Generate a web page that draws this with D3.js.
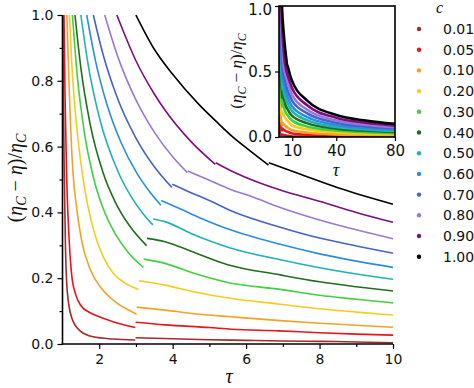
<!DOCTYPE html>
<html><head><meta charset="utf-8">
<script src="https://cdn.jsdelivr.net/npm/d3@7"></script>
<style>body{margin:0;background:#fff} svg{display:block}</style>
</head><body>
<svg id="chart" width="474" height="388"></svg>
<script>
const cLabels = ["0.01","0.05","0.10","0.20","0.30","0.40","0.50","0.60","0.70","0.80","0.90","1.00"];
const colors = ["#a52a2a","#e8161b","#f4a227","#f6cc1c","#3fd13f","#1f6f1f","#1fb3b3","#2b8ce6","#4463cc","#9a78d8","#7f0d7f","#000000"];

// branch before the jump, [tau, (etaC-eta)/etaC]
const preJump = [
  [[1.01,1],[1.025,0.75],[1.05,0.5],[1.08,0.3],[1.13,0.16],[1.25,0.08],[1.48,0.04],[1.83,0.022],[2.38,0.015],[2.98,0.012]],
  [[1.04,1],[1.07,0.75],[1.11,0.52],[1.18,0.32],[1.25,0.21],[1.36,0.15],[1.5,0.117],[1.75,0.095],[2.02,0.082],[2.4,0.067],[2.98,0.050]],
  [[1.12,1],[1.16,0.85],[1.21,0.69],[1.28,0.53],[1.39,0.41],[1.52,0.315],[1.75,0.228],[2.07,0.168],[2.43,0.129],[2.89,0.098],[3.02,0.090]],
  [[1.19,1],[1.25,0.86],[1.33,0.73],[1.43,0.615],[1.55,0.51],[1.68,0.425],[1.89,0.33],[2.11,0.265],[2.38,0.215],[2.7,0.185],[3.07,0.166]],
  [[1.27,1],[1.4,0.818],[1.6,0.640],[1.84,0.507],[2.1,0.414],[2.43,0.336],[2.79,0.278],[3.2,0.233]],
  [[1.34,1],[1.5,0.839],[1.75,0.670],[2.11,0.519],[2.43,0.433],[2.84,0.357],[3.29,0.299]],
  [[1.5,1],[1.7,0.848],[2.0,0.690],[2.52,0.522],[2.89,0.444],[3.2,0.395],[3.46,0.362]],
  [[1.66,1],[1.9,0.860],[2.2,0.732],[2.6,0.611],[3.02,0.520],[3.4,0.459],[3.68,0.422]],
  [[1.84,1],[2.1,0.882],[2.5,0.746],[3.0,0.626],[3.5,0.539],[3.98,0.476]],
  [[2.15,1],[2.5,0.875],[3.0,0.742],[3.5,0.644],[4.0,0.569],[4.4,0.521]],
  [[2.48,1],[3.0,0.861],[3.5,0.760],[3.79,0.711],[4.5,0.615],[5.16,0.546]],
  [[3.0,1],[3.5,0.896],[4.0,0.82],[4.7,0.73],[5.2,0.675],[5.61,0.632],[6.1,0.588],[6.61,0.544]]
];
// branch after the jump
const postJump = [
  [[2.99,0.019],[4,0.016],[5,0.013],[6,0.011],[7,0.009],[8,0.008],[8.7,0.007],[10,0.004]],
  [[2.99,0.066],[3.8,0.058],[5,0.050],[5.6,0.045],[6.9,0.040],[8,0.034],[9,0.030],[10,0.027]],
  [[3.02,0.112],[3.79,0.103],[4.6,0.092],[5.57,0.083],[6.93,0.071],[8,0.063],[9,0.057],[10,0.051]],
  [[3.08,0.192],[3.79,0.179],[4.6,0.158],[5.57,0.139],[6.93,0.121],[8,0.107],[9,0.097],[10,0.088]],
  [[3.21,0.258],[3.79,0.245],[4.6,0.214],[5.5,0.187],[6.93,0.166],[8,0.148],[9,0.136],[10,0.125]],
  [[3.30,0.321],[3.79,0.311],[4.5,0.282],[5.5,0.241],[6.93,0.210],[8,0.189],[9,0.174],[10,0.161]],
  [[3.47,0.380],[3.79,0.372],[4.5,0.336],[5.57,0.292],[6.93,0.256],[8,0.232],[9,0.213],[10,0.197]],
  [[3.69,0.436],[4.2,0.411],[4.8,0.381],[5.57,0.347],[6.93,0.303],[8,0.274],[9,0.252],[10,0.233]],
  [[3.99,0.486],[4.5,0.460],[5.0,0.436],[5.57,0.406],[6.93,0.355],[8,0.322],[9,0.298],[10,0.276]],
  [[4.41,0.526],[5.0,0.498],[5.6,0.469],[6.2,0.446],[6.93,0.415],[8,0.377],[9,0.347],[10,0.320]],
  [[5.17,0.551],[5.6,0.526],[6.2,0.497],[6.93,0.468],[8.02,0.433],[9,0.400],[10,0.370]],
  [[6.62,0.551],[7.5,0.515],[8.5,0.475],[10,0.425]]
];
// long-tau values shown only in the inset
const tailTau = [20,40,60,80];
const tailValues = [
  [0.003,0.002,0.0015,0.001],
  [0.018,0.011,0.008,0.006],
  [0.034,0.020,0.015,0.012],
  [0.059,0.035,0.026,0.021],
  [0.081,0.049,0.036,0.029],
  [0.106,0.064,0.048,0.038],
  [0.129,0.077,0.058,0.046],
  [0.154,0.092,0.069,0.055],
  [0.182,0.109,0.081,0.065],
  [0.210,0.126,0.094,0.075],
  [0.244,0.146,0.109,0.087],
  [0.280,0.168,0.125,0.100]
];
const mainXTicks = [2,4,6,8,10];
const mainXMinor = [3,5,7,9];
const mainYTicks = [0,0.2,0.4,0.6,0.8,1.0];
const mainYMinor = [0.1,0.3,0.5,0.7,0.9];
const insetXTicks = [10,40,80];
const insetYTicks = [0,0.5,1.0];

const svg = d3.select("#chart");
const x = d3.scaleLinear().domain([1,10]).range([62.5,393]);
const y = d3.scaleLinear().domain([0,1]).range([344,15]);
const xi = d3.scaleLinear().domain([1,80]).range([279,395]);
const yi = d3.scaleLinear().domain([0,1]).range([137,6]);

const defs = svg.append("defs");
defs.append("clipPath").attr("id","clipMain").append("rect")
  .attr("x",62.5).attr("y",14).attr("width",333).attr("height",331);
defs.append("clipPath").attr("id","clipInset").append("rect")
  .attr("x",279).attr("y",6).attr("width",116).attr("height",131);

const lineMain = d3.line().x(d=>x(d[0])).y(d=>y(d[1])).curve(d3.curveMonotoneX);
const lineInset = d3.line().x(d=>xi(d[0])).y(d=>yi(d[1])).curve(d3.curveMonotoneX);

// main curves
const gMain = svg.append("g").attr("clip-path","url(#clipMain)");
cLabels.forEach((c,i)=>{
  [preJump[i], postJump[i]].forEach(seg=>{
    gMain.append("path").attr("d",lineMain(seg)).attr("fill","none")
      .attr("stroke",colors[i]).attr("stroke-width",1.6).attr("stroke-linejoin","round");
  });
});

function styleAxis(g, fs){
  g.select(".domain").remove();
  g.selectAll("line").attr("stroke","#000").attr("stroke-width",1.2);
  g.selectAll("text").attr("font-family","DejaVu Sans").attr("font-size",fs).attr("fill","#111");
}

// main axes
const gx = svg.append("g").attr("transform","translate(0,344)")
  .call(d3.axisBottom(x).tickValues(mainXTicks).tickFormat(d3.format("d")).tickSize(5).tickPadding(5));
styleAxis(gx,14);
const gxm = svg.append("g").attr("transform","translate(0,344)")
  .call(d3.axisBottom(x).tickValues(mainXMinor).tickFormat("").tickSize(3));
styleAxis(gxm,14);
const gy = svg.append("g").attr("transform","translate(62.5,0)")
  .call(d3.axisLeft(y).tickValues(mainYTicks).tickFormat(d3.format(".1f")).tickSize(5).tickPadding(4));
styleAxis(gy,14);
const gym = svg.append("g").attr("transform","translate(62.5,0)")
  .call(d3.axisLeft(y).tickValues(mainYMinor).tickFormat("").tickSize(3));
styleAxis(gym,14);
svg.append("line").attr("x1",62.5).attr("x2",62.5).attr("y1",15).attr("y2",344.7).attr("stroke","#000").attr("stroke-width",1.6);
svg.append("line").attr("x1",61.7).attr("x2",393).attr("y1",344).attr("y2",344).attr("stroke","#000").attr("stroke-width",1.6);

// axis labels
function mathLabel(sel, fs){
  const sub = fs*0.7;
  sel.attr("font-family","Liberation Serif").attr("font-size",fs).attr("fill","#111");
  sel.append("tspan").text("(");
  sel.append("tspan").attr("font-style","italic").text("η");
  sel.append("tspan").attr("font-style","italic").attr("font-size",sub).attr("dy",fs*0.22).text("C");
  sel.append("tspan").attr("dy",-fs*0.22).text(" − ");
  sel.append("tspan").attr("font-style","italic").text("η");
  sel.append("tspan").text(")/");
  sel.append("tspan").attr("font-style","italic").text("η");
  sel.append("tspan").attr("font-style","italic").attr("font-size",sub).attr("dy",fs*0.22).text("C");
}
mathLabel(svg.append("text").attr("transform","translate(22,178) rotate(-90)").attr("text-anchor","middle"), 20);
svg.append("text").attr("x",229).attr("y",383).attr("text-anchor","middle")
  .attr("font-family","Liberation Serif").attr("font-style","italic").attr("font-size",20).attr("fill","#111").text("τ");

// inset
svg.append("rect").attr("x",279).attr("y",6).attr("width",116).attr("height",131).attr("fill","#fff");
const gIn = svg.append("g").attr("clip-path","url(#clipInset)");
cLabels.forEach((c,i)=>{
  const full = preJump[i].concat(postJump[i]).concat(tailTau.map((t,k)=>[t, tailValues[i][k]]));
  gIn.append("path").attr("d",lineInset(full)).attr("fill","none")
    .attr("stroke",colors[i]).attr("stroke-width",2.6).attr("stroke-linejoin","round");
});
const gxi = svg.append("g").attr("transform","translate(0,137)")
  .call(d3.axisBottom(xi).tickValues(insetXTicks).tickFormat(d3.format("d")).tickSize(4).tickPadding(4));
styleAxis(gxi,15);
const gyi = svg.append("g").attr("transform","translate(279,0)")
  .call(d3.axisLeft(yi).tickValues(insetYTicks).tickFormat(d3.format(".1f")).tickSize(4).tickPadding(3));
styleAxis(gyi,15);
gyi.selectAll(".tick").filter(d=>d===1).select("text").attr("dy","0.55em");
svg.append("rect").attr("x",279).attr("y",6).attr("width",116).attr("height",131)
  .attr("fill","none").attr("stroke","#000").attr("stroke-width",1.6);
mathLabel(svg.append("text").attr("transform","translate(242,71) rotate(-90)").attr("text-anchor","middle"), 17);
svg.append("text").attr("x",336).attr("y",176).attr("text-anchor","middle")
  .attr("font-family","Liberation Serif").attr("font-style","italic").attr("font-size",18).attr("fill","#111").text("τ");

// legend
svg.append("text").attr("x",439.5).attr("y",13).attr("text-anchor","middle")
  .attr("font-family","Liberation Serif").attr("font-style","italic").attr("font-size",16).attr("fill","#111").text("c");
const leg = svg.append("g").selectAll("g").data(cLabels).join("g")
  .attr("transform",(d,i)=>`translate(0,${29 + i*20.7})`);
leg.append("circle").attr("cx",419).attr("cy",0).attr("r",2.2).attr("fill",(d,i)=>colors[i]);
leg.append("text").attr("x",443).attr("y",0).attr("dy","0.36em")
  .attr("font-family","DejaVu Sans").attr("font-size",14).attr("fill","#111").text(d=>d);
</script>
</body></html>
